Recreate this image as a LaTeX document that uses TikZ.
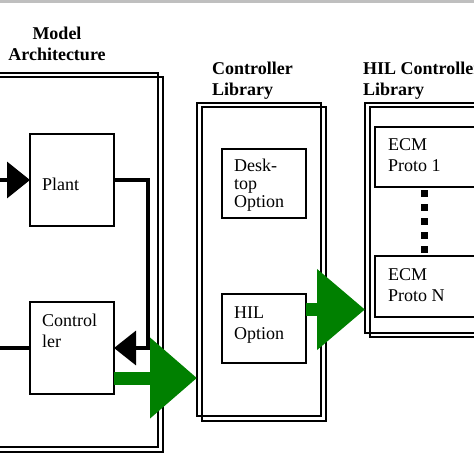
\documentclass[tikz,border=0pt]{standalone}
\usepackage{fontspec}
\setmainfont{Liberation Serif}
\usepackage{tikz}
\usetikzlibrary{calc}
\usetikzlibrary{arrows.meta}

\definecolor{arrowgreen}{RGB}{0,128,0}

\begin{document}
\begin{tikzpicture}[x=1pt, y=-1pt,
		panel/.style={draw, line width=1.5pt, anchor=north west, inner sep=0pt, outer sep=0pt},
		block/.style={draw, line width=1.4pt, anchor=north west, inner sep=0pt, outer sep=0pt},
		txt/.style={anchor=north west, inner sep=0pt, align=left, font=\fontsize{18}{21}\selectfont},
		ttl/.style={inner sep=0pt, font=\fontsize{18}{21}\selectfont\bfseries},
		sig/.style={line width=3.5pt},
		bigarrow/.style={arrowgreen, line width=13pt, -{Triangle[length=47pt, width=78pt]}}]

			\useasboundingbox (0,0) rectangle (474,474);
			\clip (0,0) rectangle (474,474);
			\fill[black!25] (0,0) rectangle (474,2.5);

			% panels
			\node[panel, minimum width=178pt, minimum height=375pt] (mback) at (-15,77) {};
			\node[panel, minimum width=178pt, minimum height=374pt] (mlib) at (-20,73) {};
			\node[panel, minimum width=124pt, minimum height=314pt] (cback) at (202,107) {};
			\node[panel, minimum width=124pt, minimum height=313pt] (clib) at (197,103) {};
			\node[panel, minimum width=140pt, minimum height=230pt] (hback) at (370,107) {};
			\node[panel, minimum width=140pt, minimum height=230pt] (hlib) at (365,103) {};

			\node[ttl, anchor=north, align=center] (mtitle) at (57,27) {Model\\Architecture};
			\node[ttl, anchor=north west, align=left] (ctitle) at (212,62) {Controller\\Library};
			\node[ttl, anchor=north west, align=left] (htitle) at (363,62) {HIL Controller\\Library};

			% blocks
			\node[block, minimum width=84pt, minimum height=92pt] (plant) at (30,134) {};
			\node[block, minimum width=84pt, minimum height=92pt] (ctrl) at (30,302) {};
			\node[block, minimum width=84pt, minimum height=69pt] (desk) at (222,149) {};
			\node[block, minimum width=84pt, minimum height=69pt] (hilopt) at (222,294) {};
			\node[block, minimum width=130pt, minimum height=60pt] (ecma) at (375,127) {};
			\node[block, minimum width=130pt, minimum height=61pt] (ecmb) at (375,256) {};

			\node[txt] (plantlbl) at (42,177.5) {Plant};
			\node[txt] (ctrllbl) at (42,313.5) {Control\\ler};
			\node[txt, font=\fontsize{18}{18}\selectfont] (desklbl) at (234,158.7) {Desk-\\top\\Option};
			\node[txt] (hillbl) at (234,307) {HIL\\Option};
			\node[txt] (ecmalbl) at (388,138) {ECM\\Proto 1};
			\node[txt] (ecmblbl) at (388,268) {ECM\\Proto N};

			% signals
			\coordinate (pin) at (-5,180);
			\coordinate (cin) at (-5,348);
			\coordinate (fb) at (148,260);
			\draw[sig, -{Triangle[length=23pt, width=36pt]}] (pin) -- (plant.west);
			\draw[sig, -{Triangle[length=22pt, width=34pt]}] (plant.east) -| (fb) |- (ctrl.east);
			\draw[sig] (cin) -- (ctrl.west);

			\draw[line width=7pt, dash pattern=on 7pt off 7pt, dash phase=11pt]
				($(ecma.south west)+(49,0)$) -- ($(ecmb.north west)+(49,0)$);

			\coordinate (g1) at ($(ctrl.east)+(0,30)$);
			\coordinate (g2) at ($(hilopt.east)+(0,-19)$);
			\draw[bigarrow] (g1) -- (g1 -| clib.west);
			\draw[bigarrow, -{Triangle[length=48pt, width=78pt]}] (g2) -- (g2 -| hlib.west);
		\end{tikzpicture}
\end{document}
